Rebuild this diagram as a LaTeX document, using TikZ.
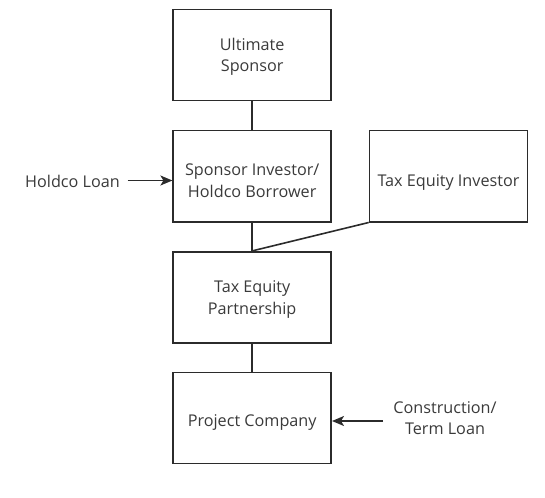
\documentclass[tikz,border=0pt]{standalone}
\usepackage{fontspec}
\setmainfont{Open Sans}
\usetikzlibrary{arrows.meta}
\definecolor{ink}{HTML}{2B2B2B}
\definecolor{txt}{HTML}{3A3A3A}
\newcommand{\lowered}[2]{\raisebox{-#1}[\height][\depth]{\begin{tabular}{@{}c@{}}#2\end{tabular}}}
\begin{document}
\begin{tikzpicture}[x=1pt,y=-1pt,
  ent/.style={draw=ink,line width=1.6pt,minimum width=158pt,minimum height=91pt,inner sep=0pt,align=center,text=txt,font=\fontsize{16.2}{21.5}\selectfont},
  lbl/.style={align=center,text=txt,font=\fontsize{16.2}{21.5}\selectfont,inner sep=0pt},
  conn/.style={draw=ink,line width=1.6pt},
  arr/.style={conn,-{Stealth[length=12pt,width=10pt,inset=3pt]}}]
\useasboundingbox (0,0) rectangle (545,497);
\node[ent] (us) at (252.2,55) {\lowered{1.5pt}{Ultimate\\Sponsor}};
\node[ent] (si) at (252.2,176.2) {\lowered{6pt}{Sponsor Investor/\\Holdco Borrower}};
\node[ent] (tei) at (448.5,176.2) {\lowered{6pt}{Tax Equity Investor}};
\node[ent] (tep) at (252.2,297.2) {\lowered{2pt}{Tax Equity\\Partnership}};
\node[ent] (pc) at (252.2,418) {\lowered{4pt}{Project Company}};
\node[lbl,anchor=east] (hl) at (120,181.5) {Holdco Loan};
\node[lbl] (ctl) at (445,418) {Construction/\\Term Loan};
\draw[arr] (hl.east) ++(7.5,-1) coordinate (hle) (hle) -- (si.west |- hle);
\draw[conn] (us) -- (si);
\draw[conn] (si) -- (tep);
\draw[conn] (tei.south west) -- (tep.north);
\draw[conn] (tep) -- (pc);
\draw[arr] (ctl.west |- pc.east) ++(-10,3) coordinate (cte) (cte) -- (pc.east |- cte);
\end{tikzpicture}
\end{document}
